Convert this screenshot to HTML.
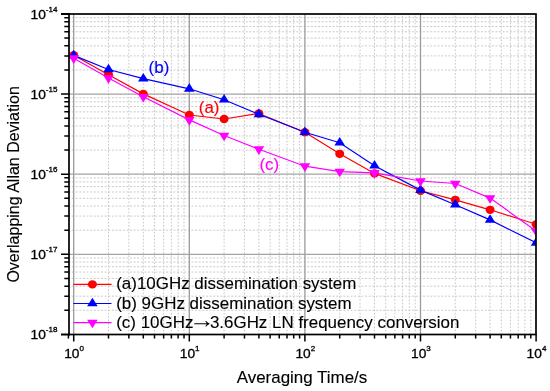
<!DOCTYPE html><html><head><meta charset="utf-8"><style>html,body{margin:0;padding:0;background:#fff;}svg{display:block;}text{font-family:"Liberation Sans",Arial,sans-serif;stroke:currentColor;stroke-width:0.12px;} .tk{stroke-width:0.3px;}</style></head><body>
<svg width="550" height="391" viewBox="0 0 550 391">
<rect width="550" height="391" fill="#fff"/>
<defs><clipPath id="pc"><rect x="69" y="14" width="467" height="320.5"/></clipPath></defs>
<path d="M108.50 15.70V334.50M128.86 15.70V334.50M143.30 15.70V334.50M154.50 15.70V334.50M163.65 15.70V334.50M171.39 15.70V334.50M178.10 15.70V334.50M184.01 15.70V334.50M224.10 15.70V334.50M244.46 15.70V334.50M258.90 15.70V334.50M270.10 15.70V334.50M279.25 15.70V334.50M286.99 15.70V334.50M293.70 15.70V334.50M299.61 15.70V334.50M339.70 15.70V334.50M360.06 15.70V334.50M374.50 15.70V334.50M385.70 15.70V334.50M394.85 15.70V334.50M402.59 15.70V334.50M409.30 15.70V334.50M415.21 15.70V334.50M455.30 15.70V334.50M475.66 15.70V334.50M490.10 15.70V334.50M501.30 15.70V334.50M510.45 15.70V334.50M518.19 15.70V334.50M524.90 15.70V334.50M530.81 15.70V334.50" stroke="#cacaca" stroke-width="1" stroke-dasharray="1.8 1.576" fill="none"/>
<path d="M68.46 310.29H536.00M68.46 296.18H536.00M68.46 286.17H536.00M68.46 278.41H536.00M68.46 272.07H536.00M68.46 266.71H536.00M68.46 262.06H536.00M68.46 257.97H536.00M68.46 230.19H536.00M68.46 216.08H536.00M68.46 206.07H536.00M68.46 198.31H536.00M68.46 191.97H536.00M68.46 186.61H536.00M68.46 181.96H536.00M68.46 177.87H536.00M68.46 150.09H536.00M68.46 135.98H536.00M68.46 125.97H536.00M68.46 118.21H536.00M68.46 111.87H536.00M68.46 106.51H536.00M68.46 101.86H536.00M68.46 97.77H536.00M68.46 69.99H536.00M68.46 55.88H536.00M68.46 45.87H536.00M68.46 38.11H536.00M68.46 31.77H536.00M68.46 26.41H536.00M68.46 21.76H536.00M68.46 17.67H536.00" stroke="#cacaca" stroke-width="1" stroke-dasharray="2 1.618" fill="none"/>
<path d="M73.70 14.00V334.50M189.30 14.00V334.50M304.90 14.00V334.50M420.50 14.00V334.50" stroke="#9a9a9a" stroke-width="1.3" fill="none"/>
<path d="M69.00 254.30H536.00M69.00 174.20H536.00M69.00 94.10H536.00" stroke="#a4a4a4" stroke-width="1.2" fill="none"/>
<g clip-path="url(#pc)">
<polyline points="73.70,55.20 108.50,74.80 143.30,93.90 189.30,115.00 224.10,119.00 258.90,113.50 304.90,132.20 339.70,153.80 374.50,173.40 420.50,190.80 455.30,199.80 490.10,209.80 536.10,224.30" stroke="#f00" stroke-width="1.2" fill="none"/>
<ellipse cx="73.70" cy="55.20" rx="4.5" ry="4.15" fill="#f00"/><ellipse cx="108.50" cy="74.80" rx="4.5" ry="4.15" fill="#f00"/><ellipse cx="143.30" cy="93.90" rx="4.5" ry="4.15" fill="#f00"/><ellipse cx="189.30" cy="115.00" rx="4.5" ry="4.15" fill="#f00"/><ellipse cx="224.10" cy="119.00" rx="4.5" ry="4.15" fill="#f00"/><ellipse cx="258.90" cy="113.50" rx="4.5" ry="4.15" fill="#f00"/><ellipse cx="304.90" cy="132.20" rx="4.5" ry="4.15" fill="#f00"/><ellipse cx="339.70" cy="153.80" rx="4.5" ry="4.15" fill="#f00"/><ellipse cx="374.50" cy="173.40" rx="4.5" ry="4.15" fill="#f00"/><ellipse cx="420.50" cy="190.80" rx="4.5" ry="4.15" fill="#f00"/><ellipse cx="455.30" cy="199.80" rx="4.5" ry="4.15" fill="#f00"/><ellipse cx="490.10" cy="209.80" rx="4.5" ry="4.15" fill="#f00"/><ellipse cx="536.10" cy="224.30" rx="4.5" ry="4.15" fill="#f00"/>
<polyline points="73.70,55.40 108.50,69.50 143.30,78.70 189.30,88.80 224.10,99.70 258.90,114.30 304.90,132.20 339.70,142.70 374.50,165.70 420.50,190.10 455.30,204.70 490.10,219.90 536.10,242.80" stroke="#00f" stroke-width="1.2" fill="none"/>
<path d="M73.70 49.67L79.00 58.27L68.40 58.27Z" fill="#00f"/><path d="M108.50 63.77L113.80 72.37L103.20 72.37Z" fill="#00f"/><path d="M143.30 72.97L148.60 81.57L138.00 81.57Z" fill="#00f"/><path d="M189.30 83.07L194.60 91.67L184.00 91.67Z" fill="#00f"/><path d="M224.10 93.97L229.40 102.57L218.80 102.57Z" fill="#00f"/><path d="M258.90 108.57L264.20 117.17L253.60 117.17Z" fill="#00f"/><path d="M304.90 126.47L310.20 135.07L299.60 135.07Z" fill="#00f"/><path d="M339.70 136.97L345.00 145.57L334.40 145.57Z" fill="#00f"/><path d="M374.50 159.97L379.80 168.57L369.20 168.57Z" fill="#00f"/><path d="M420.50 184.37L425.80 192.97L415.20 192.97Z" fill="#00f"/><path d="M455.30 198.97L460.60 207.57L450.00 207.57Z" fill="#00f"/><path d="M490.10 214.17L495.40 222.77L484.80 222.77Z" fill="#00f"/><path d="M536.10 237.07L541.40 245.67L530.80 245.67Z" fill="#00f"/>
<polyline points="73.70,58.20 108.50,78.00 143.30,96.80 189.30,119.90 224.10,135.50 258.90,149.20 304.90,166.20 339.70,171.60 374.50,172.90 420.50,181.00 455.30,183.50 490.10,198.10 536.10,231.00" stroke="#f0f" stroke-width="1.2" fill="none"/>
<path d="M73.70 63.93L79.00 55.33L68.40 55.33Z" fill="#f0f"/><path d="M108.50 83.73L113.80 75.13L103.20 75.13Z" fill="#f0f"/><path d="M143.30 102.53L148.60 93.93L138.00 93.93Z" fill="#f0f"/><path d="M189.30 125.63L194.60 117.03L184.00 117.03Z" fill="#f0f"/><path d="M224.10 141.23L229.40 132.63L218.80 132.63Z" fill="#f0f"/><path d="M258.90 154.93L264.20 146.33L253.60 146.33Z" fill="#f0f"/><path d="M304.90 171.93L310.20 163.33L299.60 163.33Z" fill="#f0f"/><path d="M339.70 177.33L345.00 168.73L334.40 168.73Z" fill="#f0f"/><path d="M374.50 178.63L379.80 170.03L369.20 170.03Z" fill="#f0f"/><path d="M420.50 186.73L425.80 178.13L415.20 178.13Z" fill="#f0f"/><path d="M455.30 189.23L460.60 180.63L450.00 180.63Z" fill="#f0f"/><path d="M490.10 203.83L495.40 195.23L484.80 195.23Z" fill="#f0f"/><path d="M536.10 236.73L541.40 228.13L530.80 228.13Z" fill="#f0f"/>
<path d="M73.3 284.4H111.5" stroke="#f00" stroke-width="1.2"/>
<ellipse cx="92.40" cy="284.40" rx="4.5" ry="4.15" fill="#f00"/>
<path d="M73.3 303.5H111.5" stroke="#00f" stroke-width="1.2"/>
<path d="M92.40 297.77L97.70 306.37L87.10 306.37Z" fill="#00f"/>
<path d="M73.3 322.6H111.5" stroke="#f0f" stroke-width="1.2"/>
<path d="M92.40 328.33L97.70 319.73L87.10 319.73Z" fill="#f0f"/>
</g>
<rect x="69" y="14" width="467" height="320.5" fill="none" stroke="#000" stroke-width="1.7"/>
<path d="M64.3 310.29H69M64.3 296.18H69M64.3 286.17H69M64.3 278.41H69M64.3 272.07H69M64.3 266.71H69M64.3 262.06H69M64.3 257.97H69M61 254.30H69M64.3 230.19H69M64.3 216.08H69M64.3 206.07H69M64.3 198.31H69M64.3 191.97H69M64.3 186.61H69M64.3 181.96H69M64.3 177.87H69M61 174.20H69M64.3 150.09H69M64.3 135.98H69M64.3 125.97H69M64.3 118.21H69M64.3 111.87H69M64.3 106.51H69M64.3 101.86H69M64.3 97.77H69M61 94.10H69M64.3 69.99H69M64.3 55.88H69M64.3 45.87H69M64.3 38.11H69M64.3 31.77H69M64.3 26.41H69M64.3 21.76H69M64.3 17.67H69M73.70 334.5V341.5M189.30 334.5V341.5M304.90 334.5V341.5M420.50 334.5V341.5M536.10 334.5V341.5M68.41 334.5V338.6M108.50 334.5V338.6M128.86 334.5V338.6M143.30 334.5V338.6M154.50 334.5V338.6M163.65 334.5V338.6M171.39 334.5V338.6M178.10 334.5V338.6M184.01 334.5V338.6M224.10 334.5V338.6M244.46 334.5V338.6M258.90 334.5V338.6M270.10 334.5V338.6M279.25 334.5V338.6M286.99 334.5V338.6M293.70 334.5V338.6M299.61 334.5V338.6M339.70 334.5V338.6M360.06 334.5V338.6M374.50 334.5V338.6M385.70 334.5V338.6M394.85 334.5V338.6M402.59 334.5V338.6M409.30 334.5V338.6M415.21 334.5V338.6M455.30 334.5V338.6M475.66 334.5V338.6M490.10 334.5V338.6M501.30 334.5V338.6M510.45 334.5V338.6M518.19 334.5V338.6M524.90 334.5V338.6M530.81 334.5V338.6M68.41 334.5V338.6" stroke="#000" stroke-width="1.5" fill="none"/>
<path d="M61 14.00H70M61 334.40H70" stroke="#000" stroke-width="2"/>
<text transform="translate(57.5 339.20) scale(1.06 1)" font-size="13" class="tk" text-anchor="end">10<tspan font-size="7.6" dy="-7.2">-18</tspan></text>
<text transform="translate(57.5 259.10) scale(1.06 1)" font-size="13" class="tk" text-anchor="end">10<tspan font-size="7.6" dy="-7.2">-17</tspan></text>
<text transform="translate(57.5 179.00) scale(1.06 1)" font-size="13" class="tk" text-anchor="end">10<tspan font-size="7.6" dy="-7.2">-16</tspan></text>
<text transform="translate(57.5 98.90) scale(1.06 1)" font-size="13" class="tk" text-anchor="end">10<tspan font-size="7.6" dy="-7.2">-15</tspan></text>
<text transform="translate(57.5 18.80) scale(1.06 1)" font-size="13" class="tk" text-anchor="end">10<tspan font-size="7.6" dy="-7.2">-14</tspan></text>
<text transform="translate(74.10 357.8) scale(1.06 1)" font-size="13" class="tk" text-anchor="middle">10<tspan font-size="7.6" dy="-7.2">0</tspan></text>
<text transform="translate(189.70 357.8) scale(1.06 1)" font-size="13" class="tk" text-anchor="middle">10<tspan font-size="7.6" dy="-7.2">1</tspan></text>
<text transform="translate(305.30 357.8) scale(1.06 1)" font-size="13" class="tk" text-anchor="middle">10<tspan font-size="7.6" dy="-7.2">2</tspan></text>
<text transform="translate(420.90 357.8) scale(1.06 1)" font-size="13" class="tk" text-anchor="middle">10<tspan font-size="7.6" dy="-7.2">3</tspan></text>
<text transform="translate(536.50 357.8) scale(1.06 1)" font-size="13" class="tk" text-anchor="middle">10<tspan font-size="7.6" dy="-7.2">4</tspan></text>
<text transform="translate(302.00 382.80) scale(1.06 1)" font-size="16" fill="#000" color="#000" text-anchor="middle">Averaging Time/s</text>
<text transform="translate(19.4 184.4) rotate(-90) scale(1 1.06)" font-size="16" text-anchor="middle">Overlapping Allan Deviation</text>
<text transform="translate(148.60 73.30) scale(1.06 1)" font-size="16" fill="#00f" color="#00f" text-anchor="start">(b)</text>
<text transform="translate(198.80 112.70) scale(1.06 1)" font-size="16" fill="#f00" color="#f00" text-anchor="start">(a)</text>
<text transform="translate(259.40 169.50) scale(1.06 1)" font-size="16" fill="#f0f" color="#f0f" text-anchor="start">(c)</text>
<text transform="translate(116.20 289.00) scale(1.06 1)" font-size="16" fill="#000" color="#000" text-anchor="start">(a)10GHz dissemination system</text>
<text transform="translate(116.20 308.60) scale(1.06 1)" font-size="16" fill="#000" color="#000" text-anchor="start">(b) 9GHz dissemination system</text>
<text transform="translate(116.20 327.70) scale(1.06 1)" font-size="16" fill="#000" color="#000" text-anchor="start">(c) 10GHz<tspan font-size="24.4" dx="-4.2" stroke="none">→</tspan><tspan dx="-4.6">3.6GHz LN frequency conversion</tspan></text>
</svg></body></html>
